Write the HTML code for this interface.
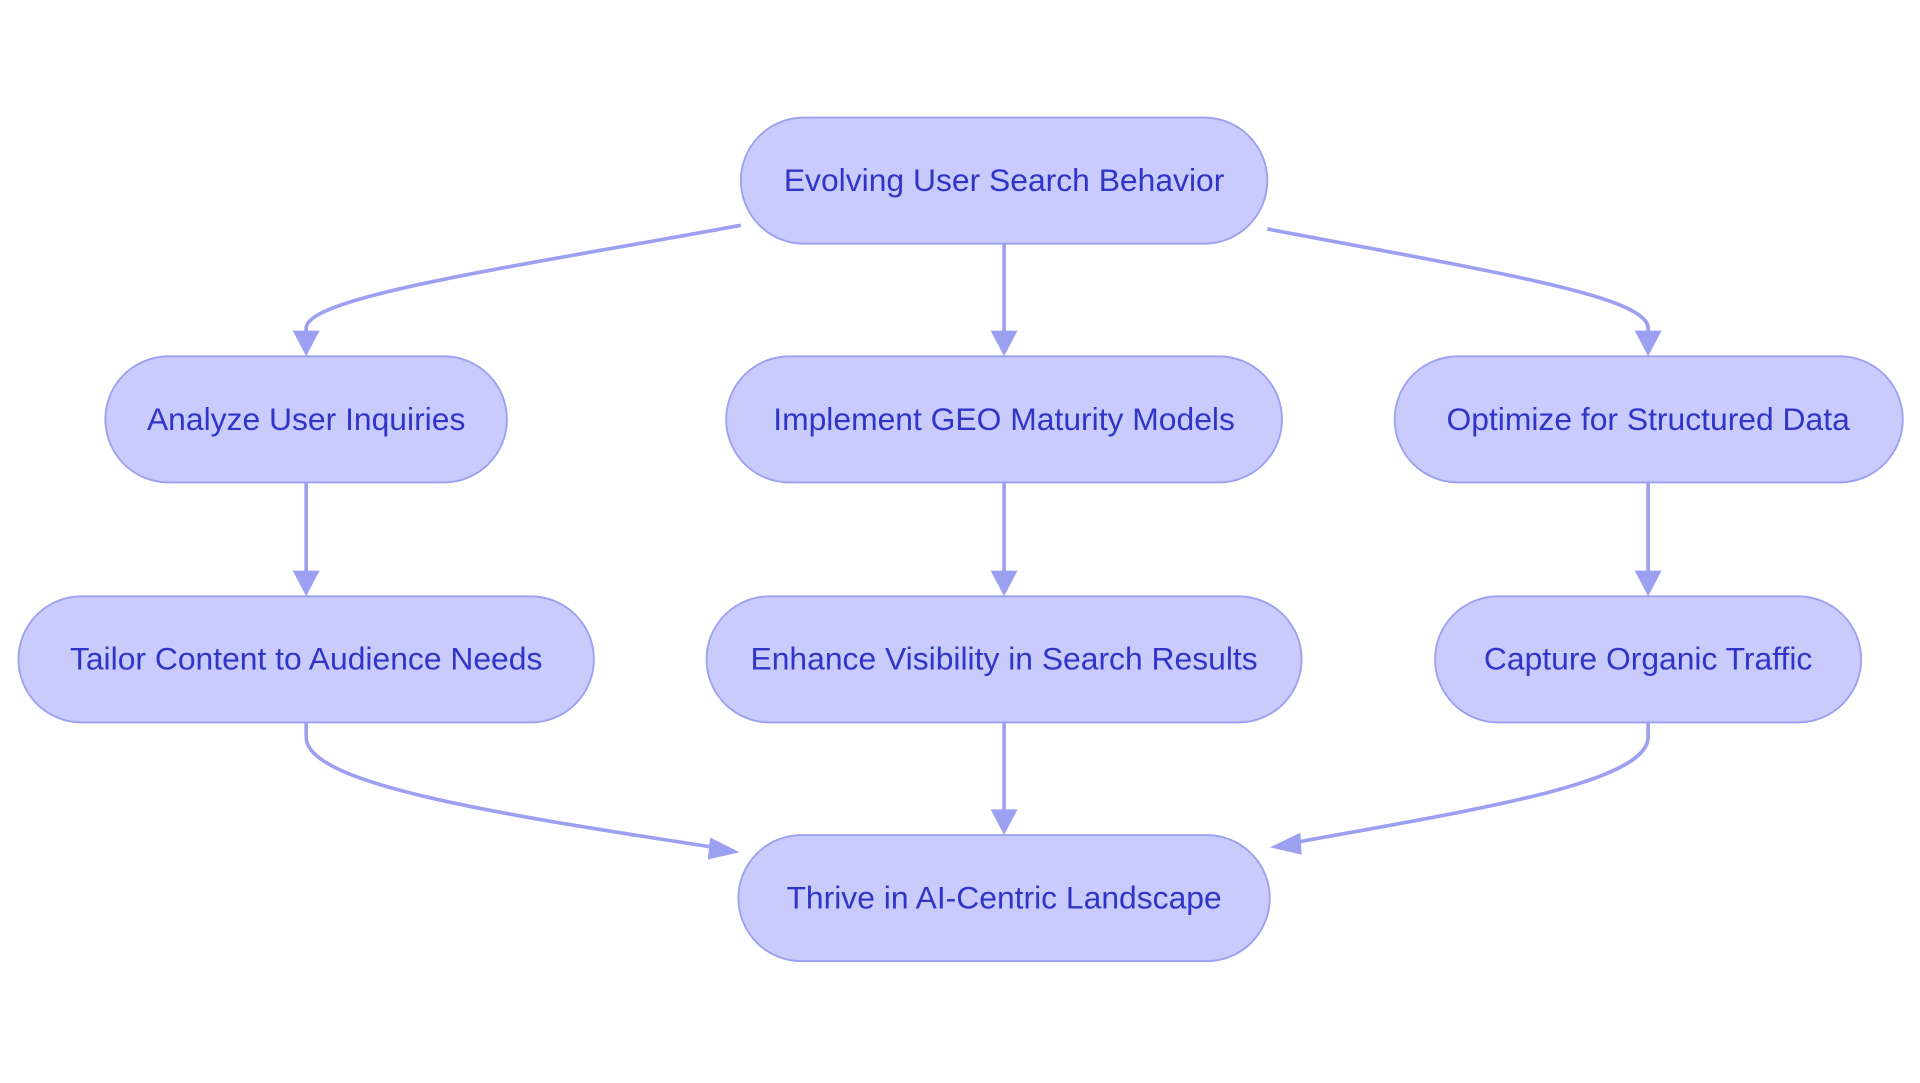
<!DOCTYPE html>
<html><head><meta charset="utf-8"><style>
html,body{margin:0;padding:0;background:#fff;width:1920px;height:1083px;overflow:hidden}
svg{display:block}
text{font-family:"Liberation Sans",sans-serif;font-size:26px;fill:#3035c8;text-anchor:middle;dominant-baseline:central}
</style></head><body>
<svg width="1920" height="1083" viewBox="0 0 1568 884.5" xmlns="http://www.w3.org/2000/svg">
<defs>
<marker id="a" viewBox="0 0 10 10" refX="9" refY="5" markerWidth="8" markerHeight="8" markerUnits="userSpaceOnUse" orient="auto" >
<path d="M0,0 L10,5 L0,10 z" fill="#9ca0f0"/>
</marker>
</defs>
<g fill="none" stroke="#9ca0f0" stroke-width="3">
<path d="M605,184 C420,218 250,242 250,268 L250,272"/>
<path d="M820,199 L820,272"/>
<path d="M1035,187 C1220,222 1346,242 1346,268 L1346,272"/>
<path d="M250,394 L250,468"/>
<path d="M820,394 L820,468"/>
<path d="M1346,394 L1346,468"/>
<path d="M820,590 L820,663"/>
<path d="M250,590 L250,602 C250,640 400,664 583,692"/>
<path d="M1346,590 L1346,602 C1346,640 1200,662 1058,688"/>
</g>
<g fill="#9ca0f0">
<polygon points="239,270 261,270 250,291"/>
<polygon points="809,270 831,270 820,291"/>
<polygon points="1335,270 1357,270 1346,291"/>
<polygon points="239,466 261,466 250,487"/>
<polygon points="809,466 831,466 820,487"/>
<polygon points="1335,466 1357,466 1346,487"/>
<polygon points="809,661 831,661 820,682"/>
<polygon points="580,684 604,696 578,702"/>
<polygon points="1062,680 1037,692 1063,698"/>
</g>
<g fill="#c8cbfc" stroke="#9ca0f0" stroke-width="1.5">
<rect x="605" y="96" width="430" height="103" rx="51.5"/>
<rect x="86" y="291" width="328" height="103" rx="51.5"/>
<rect x="593" y="291" width="454" height="103" rx="51.5"/>
<rect x="1139" y="291" width="415" height="103" rx="51.5"/>
<rect x="15" y="487" width="470" height="103" rx="51.5"/>
<rect x="577" y="487" width="486" height="103" rx="51.5"/>
<rect x="1172" y="487" width="348" height="103" rx="51.5"/>
<rect x="603" y="682" width="434" height="103" rx="51.5"/>
</g>
<text x="820" y="147">Evolving User Search Behavior</text>
<text x="250" y="342">Analyze User Inquiries</text>
<text x="820" y="342">Implement GEO Maturity Models</text>
<text x="1346" y="342">Optimize for Structured Data</text>
<text x="250" y="538">Tailor Content to Audience Needs</text>
<text x="820" y="538">Enhance Visibility in Search Results</text>
<text x="1346" y="538">Capture Organic Traffic</text>
<text x="820" y="733">Thrive in AI-Centric Landscape</text>
</svg>
</body></html>
